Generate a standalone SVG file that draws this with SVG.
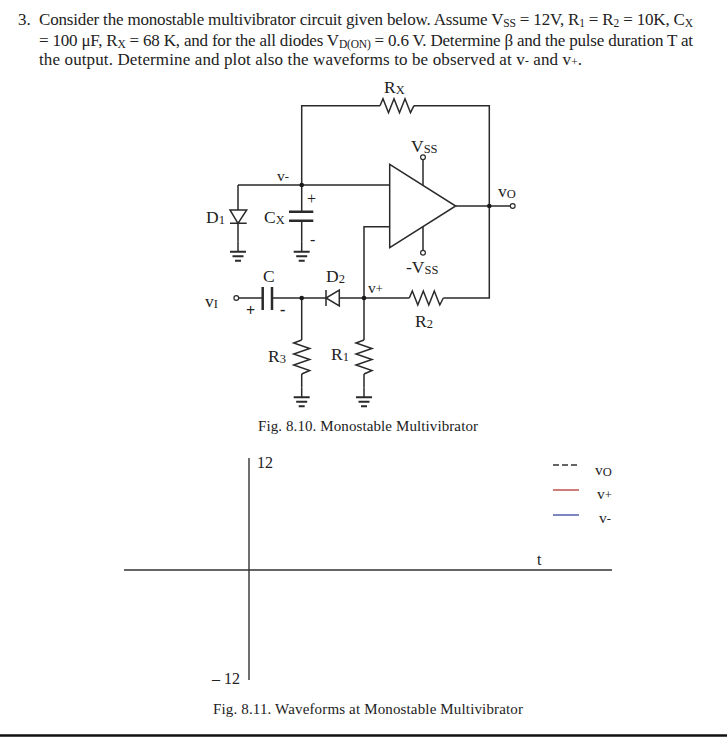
<svg xmlns="http://www.w3.org/2000/svg" width="727" height="737" viewBox="0 0 727 737">
<style>
text{font-family:"Liberation Serif",serif;fill:#222}
.b{font-size:17px}
.q{font-size:11.500px}
.l{font-size:16px}
.c{font-size:17.500px}
.s{font-size:12.500px}
.v{font-size:15.500px}
.m{font-size:15px}
.w{fill:none;stroke:#2a2a2a;stroke-width:1.500;stroke-linejoin:miter}
.p{fill:none;stroke:#2a2a2a;stroke-width:2.500}
.d{fill:#1a1a1a}
.t{fill:#fff;stroke:#2a2a2a;stroke-width:1.200}
</style>
<defs>
<g id="gnd" class="w"><path d="M0,0V10"/><path stroke-width="2" d="M-8,10H8M-5.500,14.500H5.500M-3,19H3"/></g>
<path id="rh" class="w" d="M0,0L3,-7L8.500,7L14,-7L19.500,7L25,-7L30.500,7L34,0"/>
<path id="rv" class="w" d="M0,0L-8,3L8,8.500L-8,14L8,19.500L-8,25L8,30.500L0,34"/>
</defs>
<rect width="727" height="737" fill="#fff"/>
<g id="question">
<text class="b" x="18" y="25">3.</text>
<text class="b" x="39" y="25" textLength="654" lengthAdjust="spacing">Consider the monostable multivibrator circuit given below. Assume V<tspan class="q" dy="2">SS</tspan><tspan dy="-2"> = 12V, R</tspan><tspan class="q" dy="2">1</tspan><tspan dy="-2"> = R</tspan><tspan class="q" dy="2">2</tspan><tspan dy="-2"> = 10K,  C</tspan><tspan class="q" dy="2">X</tspan></text>
<text class="b" x="39" y="46" textLength="654" lengthAdjust="spacing">= 100 μF, R<tspan class="q" dy="2">X</tspan><tspan dy="-2"> = 68 K, and for the all diodes V</tspan><tspan class="q" dy="2">D(ON)</tspan><tspan dy="-2"> = 0.6 V.  Determine β and the pulse duration T at</tspan></text>
<text class="b" x="39" y="65" textLength="543" lengthAdjust="spacing">the output. Determine and plot also the waveforms to be observed at v<tspan class="q" dy="-1">-</tspan><tspan dy="1"> and v</tspan><tspan class="q" dy="1">+</tspan><tspan dy="-1">.</tspan></text>
</g>
<g id="connectors">
<path class="w" d="M380,105.700H301.700V185M414,105.700H489.300V298H443.300"/>
<path class="w" d="M238,185H389.700M238,185V210M238,223.500V241.700"/>
<path class="w" d="M301.700,185V211.700M301.700,220.700V241.700"/>
<path class="w" d="M455.700,206H510"/>
<path class="w" d="M389.700,226.700H364V340M423,160V185.300M423,226.700V250"/>
<path class="w" d="M239,298H262.700M272,298H326M339.300,298H409.300"/>
<path class="w" d="M301.700,298V340M301.700,374V387.300M364,374V387.300"/>
<circle class="d" cx="301.700" cy="185" r="2.300"/>
<circle class="d" cx="489.300" cy="206" r="2.300"/>
<circle class="d" cx="301.700" cy="298" r="2.300"/>
<circle class="d" cx="364" cy="298" r="2.300"/>
</g>
<g id="opamp"><path class="w" d="M389.700,164.300V247.700L455.700,206Z"/></g>
<g id="vss-terminal"><circle class="t" cx="423" cy="157.300" r="2.400"/><text class="c" x="411" y="152">V<tspan class="s" dy="1">SS</tspan></text></g>
<g id="neg-vss-terminal"><circle class="t" cx="423" cy="252.700" r="2.400"/><text class="c" x="406" y="273">-V<tspan class="s" dy="1">SS</tspan></text></g>
<g id="vo-terminal"><circle class="t" cx="512.700" cy="206" r="2.400"/><text class="c" x="498" y="197">v<tspan class="s" dy="1">O</tspan></text></g>
<g id="vminus-label"><text class="v" x="277" y="181">v<tspan class="s">-</tspan></text></g>
<g id="vplus-label"><text class="v" x="368" y="293">v<tspan class="s">+</tspan></text></g>
<g id="rx"><use href="#rh" x="380" y="105.700"/><text class="c" x="384" y="93">R<tspan class="s" dy="1">X</tspan></text></g>
<g id="r2"><use href="#rh" x="409.300" y="298"/><text class="c" x="415" y="327">R<tspan class="s" dy="1">2</tspan></text></g>
<g id="r3"><use href="#rv" x="301.700" y="340"/><text class="c" x="268" y="362">R<tspan class="s" dy="1">3</tspan></text><use href="#gnd" x="301.700" y="387.300"/></g>
<g id="r1"><use href="#rv" x="364" y="340"/><text class="c" x="331" y="360">R<tspan class="s" dy="1">1</tspan></text><use href="#gnd" x="364" y="387.300"/></g>
<g id="d1"><path class="w" d="M230,210H246.700L238,223.300ZM230,223.300H246.700"/><text class="c" x="206" y="223">D<tspan class="s" dy="1">1</tspan></text><use href="#gnd" x="238" y="241.700"/></g>
<g id="cx"><path class="p" d="M289,211.700H313.300M289,220.700H313.300"/><text class="c" x="264" y="223">C<tspan class="s" dy="1">X</tspan></text><text class="l" x="307" y="204">+</text><text class="l" x="310" y="245">-</text><use href="#gnd" x="301.700" y="241.700"/></g>
<g id="c"><path class="p" d="M262.700,287V310M272,287V310"/><text class="c" x="263" y="282">C</text><text class="l" x="246" y="316" font-weight="bold">+</text><text class="l" x="280" y="315" font-weight="bold">-</text></g>
<g id="d2"><path class="w" d="M339.300,290V306L326,298ZM326,290V306"/><text class="c" x="326" y="282">D<tspan class="s" dy="1">2</tspan></text></g>
<g id="vi-terminal"><circle class="t" cx="236.300" cy="298" r="2.400"/><text class="c" x="205" y="307">v<tspan class="s" dy="1">I</tspan></text></g>
<g id="caption1"><text class="m" x="258" y="431" textLength="220" lengthAdjust="spacing">Fig. 8.10. Monostable Multivibrator</text></g>
<g id="plot">
<path d="M249,458V680M124,570H612" fill="none" stroke="#333" stroke-width="1.400"/>
<text class="l" x="257" y="468">12</text>
<text class="l" x="212" y="684">– 12</text>
<text class="l" x="537" y="565">t</text>
<path d="M553,465H580" fill="none" stroke="#333" stroke-width="1.500" stroke-dasharray="6 3"/>
<path d="M553,490H579" fill="none" stroke="#c0504d" stroke-width="1.500"/>
<path d="M553,515H579" fill="none" stroke="#4f5fa8" stroke-width="1.500"/>
<text class="v" x="595" y="475">v<tspan class="s" dy="1">O</tspan></text>
<text class="v" x="597" y="499">v<tspan class="s">+</tspan></text>
<text class="v" x="599" y="523">v<tspan class="s">-</tspan></text>
</g>
<g id="caption2"><text class="m" x="213" y="714" textLength="310" lengthAdjust="spacing">Fig. 8.11. Waveforms at Monostable Multivibrator</text></g>
<path d="M0,735.500H727" stroke="#111" stroke-width="2.500"/>
</svg>
